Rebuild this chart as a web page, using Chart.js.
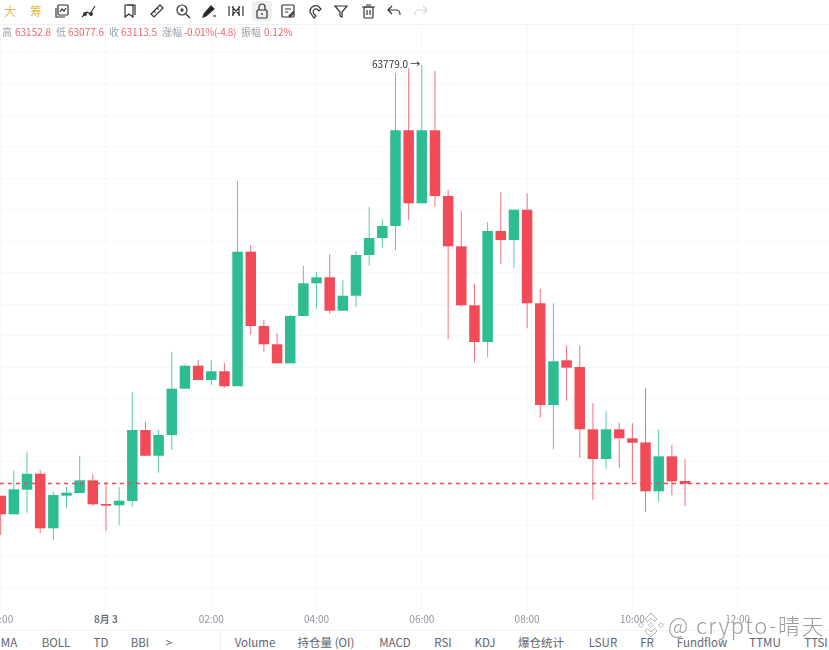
<!DOCTYPE html>
<html lang="zh"><head><meta charset="utf-8">
<script src="https://cdn.jsdelivr.net/npm/chart.js@4"></script>
<style>
html,body{margin:0;padding:0;background:#fff;width:829px;height:650px;overflow:hidden;font-family:"Noto Sans CJK SC","Noto Sans",sans-serif}
#wrap{position:relative;width:829px;height:650px;overflow:hidden}
canvas{position:absolute;left:0;top:25px}
.t{position:absolute;white-space:nowrap;line-height:1}
.ic{position:absolute;top:3px;width:16px;height:16px}
.line{position:absolute;background:#f0f1f2}
.wm{position:absolute;left:668px;top:611px;font:300 22px "Noto Sans CJK SC",sans-serif;color:rgba(125,125,125,.75);text-shadow:0 0 2px #fff,0 0 2px #fff;white-space:nowrap;letter-spacing:1.500px;line-height:26px}
</style></head><body><div id="wrap">
<canvas id="c" width="829" height="605"></canvas>
<div class="line" style="left:0;top:24px;width:829px;height:1px"></div>
<div class="line" style="left:0;top:630px;width:829px;height:1px"></div>
<div class="line" style="left:220px;top:631px;width:1px;height:19px"></div>
<div style="position:absolute;left:252px;top:1px;width:20px;height:20px;border-radius:3px;background:#eeeff0"></div>
<div id="ui"></div>
<svg style="position:absolute;left:636px;top:610px" width="30" height="30" viewBox="0 0 30 30"><g fill="#fff" stroke="rgba(150,150,150,.7)" stroke-width="1"><path d="M15 3l6 6-2.500 2.500L15 8l-3.500 3.500L9 9z"/><path d="M15 27l6-6-2.500-2.500L15 22l-3.500-3.500L9 21z"/><path d="M5 12.500l2.500 2.500L5 17.500 2.500 15z"/><path d="M25 12.500l2.500 2.500-2.500 2.500-2.500-2.500z"/><path d="M15 12.500l2.500 2.500-2.500 2.500-2.500-2.500z"/></g></svg>
<div class="wm">@ crypto-晴天</div>
</div>
<script>
const categories = ['22:00','22:15','22:30','22:45','23:00','23:15','23:30','23:45','00:00','00:15','00:30','00:45','01:00','01:15','01:30','01:45','02:00','02:15','02:30','02:45','03:00','03:15','03:30','03:45','04:00','04:15','04:30','04:45','05:00','05:15','05:30','05:45','06:00','06:15','06:30','06:45','07:00','07:15','07:30','07:45','08:00','08:15','08:30','08:45','09:00','09:15','09:30','09:45','10:00','10:15','10:30','10:45','11:00'];
const opens = [63096.5,63067.0,63106.0,63131.4,63044.8,63096.5,63100.8,63120.9,63083.4,63081.3,63088.1,63200.7,63159.9,63192.8,63266.2,63302.6,63280.0,63293.8,63270.0,63483.4,63365.6,63336.6,63306.4,63381.4,63433.3,63442.8,63389.8,63413.6,63478.1,63505.1,63524.1,63675.9,63560.1,63675.9,63571.7,63491.9,63398.4,63340.2,63516.2,63501.9,63550.0,63401.6,63240.3,63311.2,63300.6,63201.8,63154.7,63201.8,63187.5,63181.0,63103.5,63159.0,63119.8];
const closes = [63067.0,63106.7,63131.4,63044.8,63097.6,63101.3,63120.9,63082.9,63080.7,63088.6,63200.7,63159.9,63192.8,63266.2,63302.6,63280.0,63293.8,63270.0,63483.4,63365.6,63336.6,63306.4,63381.4,63433.3,63442.8,63389.8,63413.6,63478.1,63505.1,63524.1,63675.9,63560.1,63675.9,63571.7,63491.9,63398.4,63340.2,63516.2,63501.9,63550.0,63401.6,63240.3,63309.6,63299.5,63201.8,63154.7,63201.8,63187.5,63180.5,63103.5,63159.0,63119.3,63115.5];
const highs = [63096.5,63136.2,63165.3,63136.8,63102.9,63110.8,63159.9,63130.4,63117.8,63109.8,63260.5,63213.4,63200.7,63324.8,63304.8,63311.7,63311.7,63306.4,63595.5,63494.0,63375.1,63354.0,63383.0,63460.7,63450.7,63479.3,63438.0,63484.5,63554.7,63534.7,63766.2,63774.2,63779.0,63769.9,63581.2,63547.4,63432.6,63530.5,63577.6,63550.0,63576.0,63424.7,63401.6,63334.3,63334.3,63243.0,63230.3,63212.3,63211.3,63267.7,63201.2,63177.4,63154.7];
const lows = [63034.2,63067.0,63069.6,63036.9,63026.3,63077.5,63100.8,63080.7,63041.0,63050.1,63079.1,63159.9,63133.0,63169.0,63266.2,63280.0,63272.0,63267.7,63270.0,63351.8,63324.8,63306.4,63306.4,63381.4,63393.0,63385.1,63389.8,63396.2,63461.2,63489.7,63486.1,63533.6,63560.1,63554.7,63345.0,63396.2,63308.0,63315.9,63464.4,63458.0,63361.9,63220.2,63170.1,63247.1,63156.8,63090.2,63139.3,63140.4,63118.7,63071.1,63086.5,63097.2,63080.2];
const lastPrice = 63116.0;
const maxLabelValue = 63779.0;
const maxLabelIndex = 32;
const tickLabels = ['22:00','8月 3','02:00','04:00','06:00','08:00','10:00','12:00'];
const toolbarText = [['大',4,'#e5b54a'],['筹',30,'#e5b54a']];
const ohlcText = [['高',2,'g'],['63152.8',15,'r'],['低',56,'g'],['63077.6',68,'r'],['收',109,'g'],['63113.5',121,'r'],['涨幅',162,'g'],['-0.01%(-4.8)',184,'r',-0.35],['振幅',241,'g'],['0.12%',264,'r']];
const menuItems = [['MA',9],['BOLL',56],['TD',101],['BBI',140],['>',169],['Volume',255],['持仓量 (OI)',326],['MACD',395],['RSI',443],['KDJ',485],['爆仓统计',541],['LSUR',603],['FR',647],['Fundflow',702],['TTMU',765],['TTSI',816]];

const GREEN='#2ebd92', RED='#f14b58', GRID='#f7f9f9';
const ui=document.getElementById('ui');
function addText(s,x,y,sz,col,center,ls){const d=document.createElement('div');d.className='t';d.textContent=s;d.style.cssText+=`left:${x}px;top:${y}px;font-size:${sz}px;color:${col};`+(center?'transform:translateX(-50%);':'')+(ls?`letter-spacing:${ls}px;`:'');ui.appendChild(d);}
toolbarText.forEach(a=>addText(a[0],a[1],5,12,a[2]));
ohlcText.forEach(a=>addText(a[0],a[1],27,10,a[2]==='r'?'#ef6470':'#9aa0a8',false,a[3]));
menuItems.forEach(a=>addText(a[0],a[1],637,11.5,'#5d6470',true));
const icons=[
 [62,'<rect x="4" y="2" width="10" height="10" rx="1"/><path d="M2 5v9h9"/><path d="M6 9l2-3 2 2 2-3"/>'],
 [88,'<path d="M2 14l5-5 3 2 5-8"/><circle cx="5" cy="11" r="1.300" fill="#333"/><circle cx="11" cy="11" r="1.300" fill="#333"/>'],
 [130,'<path d="M3 2h8v12l-4-3-4 3z"/><path d="M5 2h8v10"/>'],
 [157,'<path d="M2 11l9-9 3 3-9 9z"/><path d="M5 8l1.500 1.500M8 5l1.500 1.500"/>'],
 [183,'<circle cx="7" cy="7" r="5"/><path d="M11 11l4 4M5 7h4M7 5v4"/>'],
 [209,'<path d="M3 11l7-8 3 3-8 7-3 1z" fill="#222"/><path d="M12 13h3"/>'],
 [236,'<path d="M1 3v10M15 3v10M4 4l8 8M12 4l-8 8M5 3v10M11 3v10"/>'],
 [262,'<rect x="3" y="7" width="10" height="8" rx="1"/><path d="M5 7V4a3 3 0 0 1 6 0v3M8 10v2"/>'],
 [288,'<rect x="2" y="2" width="12" height="12" rx="1"/><path d="M5 6h6M5 9h3M9 13l4-4 1 1-4 4z"/>'],
 [315,'<path d="M3 9a6 6 0 0 1 8-6l3 3-2 2-2-2a3 3 0 0 0-3 5l2 2-2 2z"/>'],
 [341,'<path d="M2 3h12L9 9v5l-2-1V9z"/>'],
 [368,'<rect x="4" y="4" width="9" height="11" rx="1"/><path d="M2 4h13M6 2h5M7 7v5M10 7v5"/>'],
 [394,'<path d="M6 3L2 7l4 4M2 7h8a4 4 0 0 1 4 4v1"/>'],
 [421,'<path d="M10 3l4 4-4 4M14 7H6a4 4 0 0 0-4 4v1" style="stroke:#d5d8dc"/>']
];
icons.forEach(a=>{const s=document.createElementNS('http://www.w3.org/2000/svg','svg');s.setAttribute('class','ic');s.setAttribute('viewBox','0 0 16 16');s.style.left=(a[0]-8)+'px';s.innerHTML=`<g fill="none" stroke="#333" stroke-width="1.200">${a[1]}</g>`;ui.appendChild(s);});

const up=opens.map((o,i)=>closes[i]>=o);
const colors=up.map(u=>u?GREEN:RED);
const wickColors=up.map(u=>u?'rgba(46,189,146,.8)':'rgba(241,75,88,.8)');
const xMin=-0.053, xMax=62.941;

const maxLabel={id:'maxLabel',afterDatasetsDraw(ch){
  const c=ch.ctx,px=ch.scales.x.getPixelForValue(maxLabelIndex),py=ch.scales.y.getPixelForValue(maxLabelValue);
  c.save();c.font='10px "Noto Sans CJK SC",sans-serif';c.fillStyle='#333';c.textAlign='right';c.textBaseline='middle';
  c.fillText(maxLabelValue.toFixed(1)+' →',px-1.500,py-1);c.restore();}};

new Chart(document.getElementById('c').getContext('2d'),{
  type:'bar',
  data:{datasets:[
    {type:'line',data:[{x:xMin,y:lastPrice},{x:xMax,y:lastPrice}],borderColor:'#f04654',borderWidth:1.5,borderDash:[4,4],pointRadius:0,fill:false,order:0},
    {label:'body',data:categories.map((n,i)=>({x:i,y:[opens[i],closes[i]]})),backgroundColor:colors,barThickness:10.5,borderWidth:0,inflateAmount:0,grouped:false,order:1},
    {label:'wick',data:categories.map((n,i)=>({x:i,y:[lows[i],highs[i]]})),backgroundColor:wickColors,barThickness:1,borderWidth:0,inflateAmount:0,grouped:false,order:2}
  ]},
  options:{
    responsive:false,animation:false,devicePixelRatio:1,
    layout:{padding:0},
    plugins:{legend:{display:false},tooltip:{enabled:false},title:{display:false}},
    scales:{
      x:{type:'linear',offset:false,min:xMin,max:xMax,
        grid:{offset:false,color:GRID,drawTicks:false},border:{display:false},
        ticks:{stepSize:8,includeBounds:false,autoSkip:false,maxRotation:0,minRotation:0,padding:4,
          callback:v=>tickLabels[v/8],
          color:c=>c.index===1?'#6b7280':'#8f959e',
          font:c=>({size:10,weight:c.index===1?'bold':'normal',family:'"Noto Sans CJK SC",sans-serif'})},
        afterFit(s){s.height=21;s.paddingLeft=0;s.paddingRight=0;}},
      y:{type:'linear',min:62916.9,max:63842.8,
        grid:{color:GRID,drawTicks:false},border:{display:false},
        ticks:{stepSize:50,includeBounds:false,display:false},
        afterFit(s){s.width=0;s.paddingTop=0;s.paddingBottom=0;}}
    }
  },
  plugins:[maxLabel]
});
</script>
</body></html>
